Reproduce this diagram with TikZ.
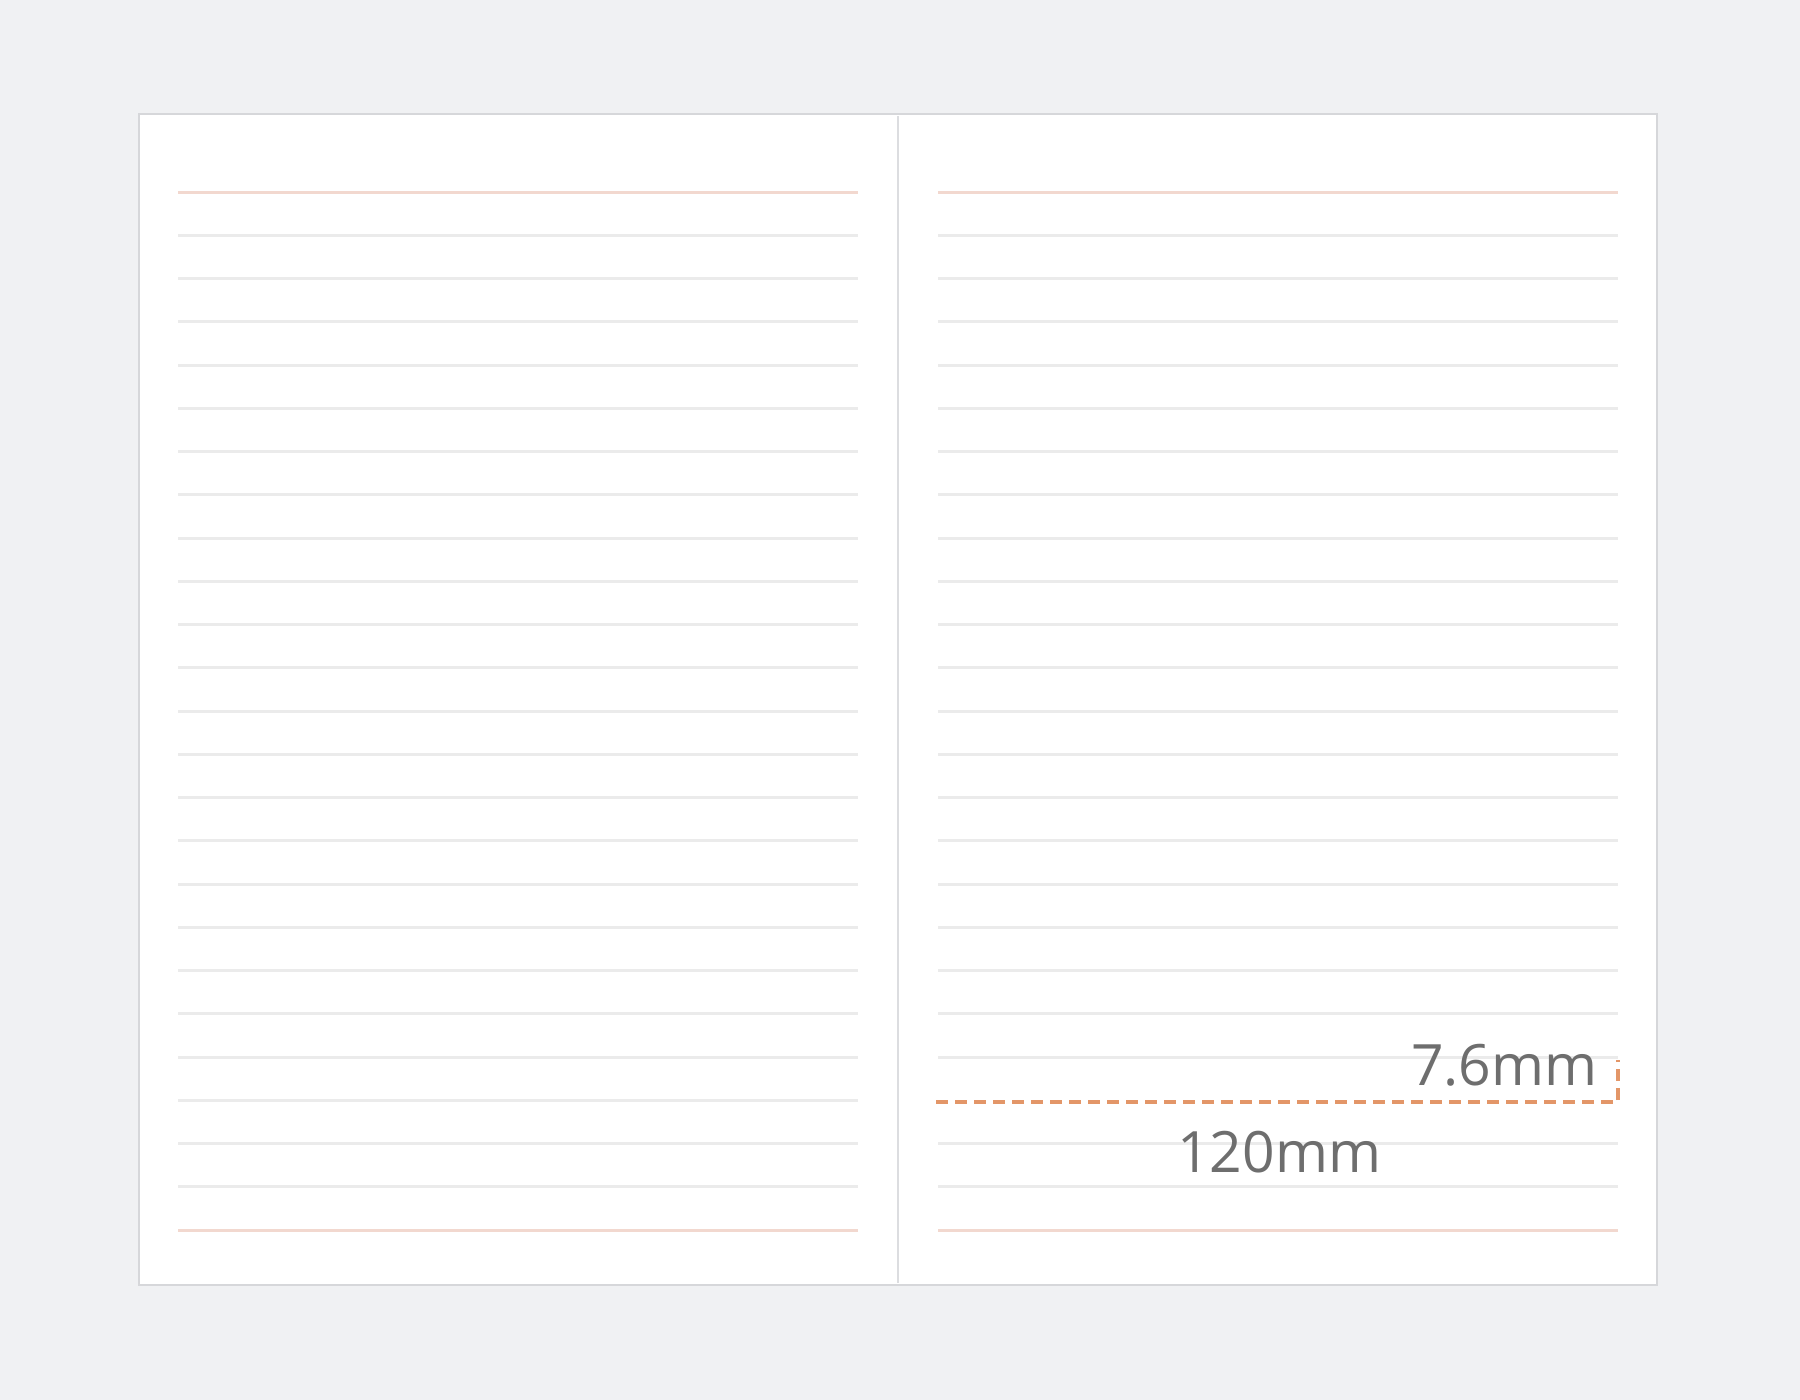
\documentclass[tikz,border=0pt]{standalone}
\usepackage{fontspec}
\setmainfont{Open Sans}
\definecolor{bgc}{HTML}{F0F1F3}
\definecolor{edgec}{HTML}{D6D7DA}
\definecolor{rulec}{HTML}{EBEBEB}
\definecolor{pinkc}{HTML}{F2D8CF}
\definecolor{orangec}{HTML}{E39668}
\definecolor{textc}{HTML}{6E6E6E}
\begin{document}
\begin{tikzpicture}[x=1pt,y=-1pt,
  rule/.style={draw=rulec,line width=3pt},
  pinkrule/.style={draw=pinkc,line width=3pt},
  measure/.style={draw=orangec,line width=3.3pt,dash pattern=on 12pt off 7pt},
  label/.style={text=textc,font=\fontsize{57}{60}\selectfont,inner sep=0pt,anchor=base west}]
\fill[bgc] (0,0) rectangle (1800,1400);
\useasboundingbox (0,0) rectangle (1800,1400);
\filldraw[fill=white,draw=edgec,line width=2.6pt] (139,114) rectangle (1657,1285);
\draw[draw=edgec!85,line width=2.8pt] (898,116) -- (898,1283);
% left page
\foreach \i in {1,...,23}{
  \draw[rule] (178,{192+\i*43.25}) -- (858,{192+\i*43.25});
}
\draw[pinkrule] (178,192) -- (858,192);
\draw[pinkrule] (178,1230) -- (858,1230);
% right page
\foreach \i in {1,...,20,22,23}{
  \draw[rule] (938,{192+\i*43.25}) -- (1618,{192+\i*43.25});
}
\draw[pinkrule] (938,192) -- (1618,192);
\draw[pinkrule] (938,1230) -- (1618,1230);
\coordinate (ms) at (936,1102);
\coordinate (mc) at (1618,1102);
\coordinate (me) at (1618,1060);
\draw[measure] (ms) -- (mc) -- (me);
\node[label] (h) at (1411,1085) {7.6mm};
\node[label] (w) at (1177,1172) {120mm};
\end{tikzpicture}
\end{document}
